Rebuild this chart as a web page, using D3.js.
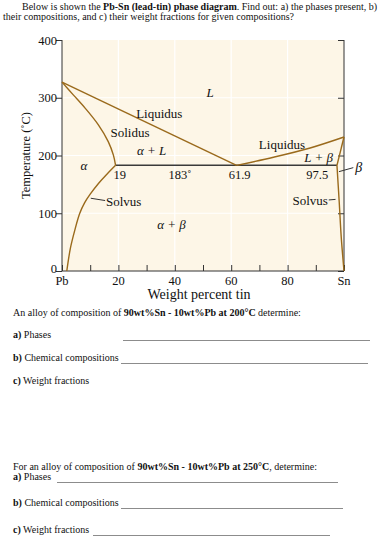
<!DOCTYPE html>
<html>
<head>
<meta charset="utf-8">
<script src="https://cdn.jsdelivr.net/npm/d3@7"></script>
<style>
  body { margin: 0; background: #fff; }
  svg text { font-family: "Liberation Serif", "Times New Roman", serif; fill: #111; }
</style>
</head>
<body>
<svg id="chart" width="384" height="550"></svg>
<script>
// phase boundaries, [wt% Sn, temperature C]
const liquidusLeft = [[0, 327], [61.9, 183]];
const solidusLeft = [[0, 327], [4, 305], [8.2, 282], [12.9, 253], [16.4, 224], [18.2, 201], [19, 183]];
const solvusLeft = [[19, 183], [16, 168], [13, 152], [10, 133], [8, 118], [6.3, 100], [4.5, 70], [3, 40], [1.7, 0]];
const liquidusRight = [[61.9, 183], [75, 197], [88, 213], [100, 232]];
const solidusRight = [[100, 232], [97.5, 183]];
const solvusRight = [[97.5, 183], [98.3, 120], [99, 60], [100, 0]];
const eutectic = [[19, 183], [97.5, 183]];

const tempTicks = [0, 100, 200, 300, 400];
const wtTicks = [0, 10, 20, 30, 40, 50, 60, 70, 80, 90, 100];
const wtLabels = [[0, 'Pb'], [20, '20'], [40, '40'], [60, '60'], [80, '80'], [100, 'Sn']];
const gridWt = [20, 40, 60, 80];
const gridTemp = [100, 200, 300];

// region / point labels at [wt%, temp]
const regionLabels = [
  ['L', 52.5, 310, true],
  ['Liquidus', 34.5, 273, false],
  ['Solidus', 24.1, 240, false],
  ['α + L', 31.8, 209, true],
  ['α', 7.8, 183, true],
  ['Liquidus', 78, 220, false],
  ['L + β', 91, 197, true],
  ['α + β', 38.8, 80, true]
];
const pointLabels = [['19', 20.5], ['183˚', 41.8], ['61.9', 63], ['97.5', 90.5]];

const svg = d3.select('#chart');

const x = d3.scaleLinear().domain([0, 100]).range([62, 344]);
const y = d3.scaleLinear().domain([0, 400]).range([271, 40]);

// header
const head = svg.append('g').attr('font-size', 10);
const h1 = head.append('text').attr('x', 22).attr('y', 10);
h1.append('tspan').text('Below is shown the ');
h1.append('tspan').attr('font-weight', 'bold').text('Pb-Sn (lead-tin) phase diagram');
h1.append('tspan').text('. Find out: a) the phases present, b)');
head.append('text').attr('x', 3).attr('y', 20)
  .text('their compositions, and c) their weight fractions for given compositions?');

// plot background + faint grid
svg.append('rect')
  .attr('x', x(0)).attr('y', y(400))
  .attr('width', x(100) - x(0)).attr('height', y(0) - y(400))
  .attr('fill', '#fdf6e7');

svg.selectAll('.gx').data(gridWt).enter().append('line')
  .attr('x1', d => x(d)).attr('x2', d => x(d))
  .attr('y1', y(400)).attr('y2', y(0))
  .attr('stroke', '#fff').attr('stroke-width', 1.2);
svg.selectAll('.gy').data(gridTemp).enter().append('line')
  .attr('x1', x(0)).attr('x2', x(100))
  .attr('y1', d => y(d)).attr('y2', d => y(d))
  .attr('stroke', '#fff').attr('stroke-width', 1.2);

// axes
const axisColor = '#333';
const left = svg.append('g').attr('transform', 'translate(' + x(0) + ',0)')
  .call(d3.axisLeft(y).tickValues(tempTicks).tickSize(6).tickFormat(d3.format('d')));
const right = svg.append('g').attr('transform', 'translate(' + x(100) + ',0)')
  .call(d3.axisLeft(y).tickValues(tempTicks).tickSize(6).tickFormat(''));
const bottom = svg.append('g').attr('transform', 'translate(0,' + y(0) + ')')
  .call(d3.axisTop(x).tickValues(wtTicks).tickSize(6).tickFormat(''));

[left, right, bottom].forEach(g => {
  g.select('.domain').attr('stroke', axisColor);
  g.selectAll('.tick line').attr('stroke', axisColor);
});
left.select('.domain').attr('d', 'M0,' + y(400) + 'V' + y(0));
right.select('.domain').attr('d', 'M0,' + y(400) + 'V' + y(0));
bottom.select('.domain').attr('d', 'M' + x(0) + ',0H' + x(100));
left.selectAll('.tick text')
  .attr('font-family', '"Liberation Serif", serif').attr('font-size', 12.5)
  .attr('fill', '#222').attr('x', -5).attr('dy', '0.32em');
left.select('.tick text').attr('dy', '0.1em');

svg.selectAll('.wtl').data(wtLabels).enter().append('text')
  .attr('x', d => x(d[0])).attr('y', 285)
  .attr('text-anchor', 'middle').attr('font-size', 12.5)
  .text(d => d[1]);

svg.append('text')
  .attr('x', 199).attr('y', 299)
  .attr('text-anchor', 'middle').attr('font-size', 14)
  .text('Weight percent tin');

svg.append('text')
  .attr('transform', 'translate(30,' + y(200) + ') rotate(-90)')
  .attr('text-anchor', 'middle').attr('font-size', 12.5)
  .text('Temperature (˚C)');

// phase boundaries
const line = d3.line().x(d => x(d[0])).y(d => y(d[1]));
const curve = d3.line().x(d => x(d[0])).y(d => y(d[1])).curve(d3.curveCatmullRom);
const brown = '#9a6a1c';

svg.append('path').datum(eutectic).attr('d', line)
  .attr('fill', 'none').attr('stroke', '#3a3a3a').attr('stroke-width', 1.6);

[liquidusLeft, solidusRight].forEach(p => {
  svg.append('path').datum(p).attr('d', line)
    .attr('fill', 'none').attr('stroke', brown).attr('stroke-width', 1.4);
});
[solidusLeft, solvusLeft, liquidusRight, solvusRight].forEach(p => {
  svg.append('path').datum(p).attr('d', curve)
    .attr('fill', 'none').attr('stroke', brown).attr('stroke-width', 1.4);
});

// labels
svg.selectAll('.rl').data(regionLabels).enter().append('text')
  .attr('x', d => x(d[1])).attr('y', d => y(d[2]))
  .attr('text-anchor', 'middle').attr('dy', '0.35em')
  .attr('font-size', 13)
  .attr('font-style', d => d[3] ? 'italic' : null)
  .text(d => d[0]);

svg.selectAll('.pl').data(pointLabels).enter().append('text')
  .attr('x', d => x(d[1])).attr('y', y(183) + 14)
  .attr('text-anchor', 'middle').attr('font-size', 12.5)
  .text(d => d[0]);

// solvus + beta call-outs with leader lines
svg.append('line').attr('x1', x(10.2)).attr('y1', y(126)).attr('x2', x(15.3)).attr('y2', y(122))
  .attr('stroke', '#333');
svg.append('text').attr('x', x(15.6)).attr('y', y(121)).attr('dy', '0.35em')
  .attr('font-size', 13).text('Solvus');

svg.append('line').attr('x1', x(94.6)).attr('y1', y(123)).attr('x2', x(97)).attr('y2', y(124))
  .attr('stroke', '#333');
svg.append('text').attr('x', x(94.3)).attr('y', y(122)).attr('dy', '0.35em')
  .attr('text-anchor', 'end').attr('font-size', 13).text('Solvus');

svg.append('line').attr('x1', x(98.2)).attr('y1', y(172)).attr('x2', x(103.3)).attr('y2', y(179))
  .attr('stroke', '#333');
svg.append('text').attr('x', x(104)).attr('y', y(180)).attr('dy', '0.35em')
  .attr('font-size', 14).attr('font-style', 'italic').text('β');

// questions
const q = svg.append('g').attr('font-size', 10);
function question(yy, parts) {
  const t = q.append('text').attr('x', 13).attr('y', yy);
  parts.forEach(p => t.append('tspan').attr('font-weight', p[1] ? 'bold' : null).text(p[0]));
}
function item(yy, letter, label, lx1, lx2) {
  const t = q.append('text').attr('x', 13).attr('y', yy);
  t.append('tspan').attr('font-weight', 'bold').text(letter);
  t.append('tspan').text(label);
  if (lx1 != null) {
    q.append('line').attr('x1', lx1).attr('x2', lx2).attr('y1', yy + 2.5).attr('y2', yy + 2.5)
      .attr('stroke', '#8c8c8c').attr('stroke-width', 1);
  }
}

question(316, [['An alloy of composition of  ', false], ['90wt%Sn - 10wt%Pb at 200°C', true], [' determine:', false]]);
item(338, 'a)', ' Phases', 123, 370);
item(361, 'b)', ' Chemical compositions', 121, 368);
item(384, 'c)', '  Weight fractions', null, null);

question(470, [['For an alloy of composition of ', false], ['90wt%Sn - 10wt%Pb at 250°C', true], [', determine:', false]]);
item(480, 'a)', ' Phases', 57, 338);
item(506, 'b)', ' Chemical compositions', 121, 343);
item(533, 'c)', '  Weight fractions', 93, 330);
</script>
</body>
</html>
